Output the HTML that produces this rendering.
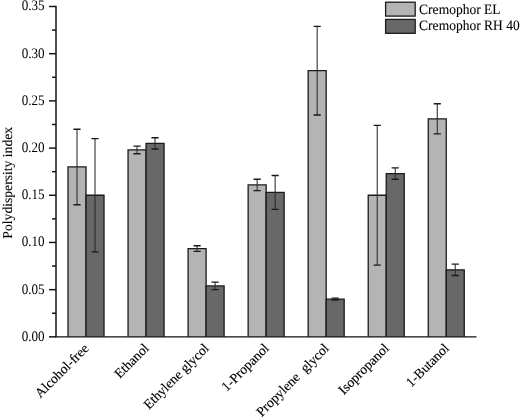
<!DOCTYPE html><html><head><meta charset="utf-8"><title>Polydispersity index</title>
<style>html,body{margin:0;padding:0;background:#fff}svg{display:block}text{text-rendering:geometricPrecision;font-family:"Liberation Serif","Times New Roman",serif;font-size:13.8px;fill:#000}</style></head><body>
<svg width="521" height="419" viewBox="0 0 521 419">
<rect width="521" height="419" fill="#fff"/>
<path d="M68.02 336.85V166.96h18.00V336.85" fill="#b4b4b4" stroke="#1a1a1a" stroke-width="1.3"/>
<path d="M77.02 129.20V204.71" stroke="#2a2a2a" stroke-width="1.05" fill="none"/>
<path d="M73.42 129.20h7.2M73.42 204.71h7.2" stroke="#1a1a1a" stroke-width="1.35" fill="none"/>
<path d="M86.02 336.85V195.27h18.00V336.85" fill="#686868" stroke="#1a1a1a" stroke-width="1.3"/>
<path d="M95.02 138.64V251.90" stroke="#2a2a2a" stroke-width="1.05" fill="none"/>
<path d="M91.42 138.64h7.2M91.42 251.90h7.2" stroke="#1a1a1a" stroke-width="1.35" fill="none"/>
<path d="M128.06 336.85V149.97h18.00V336.85" fill="#b4b4b4" stroke="#1a1a1a" stroke-width="1.3"/>
<path d="M137.06 146.19V153.74" stroke="#2a2a2a" stroke-width="1.05" fill="none"/>
<path d="M133.46 146.19h7.2M133.46 153.74h7.2" stroke="#1a1a1a" stroke-width="1.35" fill="none"/>
<path d="M146.06 336.85V143.36h18.00V336.85" fill="#686868" stroke="#1a1a1a" stroke-width="1.3"/>
<path d="M155.06 137.70V149.02" stroke="#2a2a2a" stroke-width="1.05" fill="none"/>
<path d="M151.46 137.70h7.2M151.46 149.02h7.2" stroke="#1a1a1a" stroke-width="1.35" fill="none"/>
<path d="M188.10 336.85V248.60h18.00V336.85" fill="#b4b4b4" stroke="#1a1a1a" stroke-width="1.3"/>
<path d="M197.10 245.77V251.43" stroke="#2a2a2a" stroke-width="1.05" fill="none"/>
<path d="M193.50 245.77h7.2M193.50 251.43h7.2" stroke="#1a1a1a" stroke-width="1.35" fill="none"/>
<path d="M206.10 336.85V285.88h18.00V336.85" fill="#686868" stroke="#1a1a1a" stroke-width="1.3"/>
<path d="M215.10 282.11V289.66" stroke="#2a2a2a" stroke-width="1.05" fill="none"/>
<path d="M211.50 282.11h7.2M211.50 289.66h7.2" stroke="#1a1a1a" stroke-width="1.35" fill="none"/>
<path d="M248.14 336.85V184.89h18.00V336.85" fill="#b4b4b4" stroke="#1a1a1a" stroke-width="1.3"/>
<path d="M257.14 179.23V190.55" stroke="#2a2a2a" stroke-width="1.05" fill="none"/>
<path d="M253.54 179.23h7.2M253.54 190.55h7.2" stroke="#1a1a1a" stroke-width="1.35" fill="none"/>
<path d="M266.14 336.85V192.44h18.00V336.85" fill="#686868" stroke="#1a1a1a" stroke-width="1.3"/>
<path d="M275.14 175.45V209.43" stroke="#2a2a2a" stroke-width="1.05" fill="none"/>
<path d="M271.54 175.45h7.2M271.54 209.43h7.2" stroke="#1a1a1a" stroke-width="1.35" fill="none"/>
<path d="M308.18 336.85V70.68h18.00V336.85" fill="#b4b4b4" stroke="#1a1a1a" stroke-width="1.3"/>
<path d="M317.18 26.32V115.04" stroke="#2a2a2a" stroke-width="1.05" fill="none"/>
<path d="M313.58 26.32h7.2M313.58 115.04h7.2" stroke="#1a1a1a" stroke-width="1.35" fill="none"/>
<path d="M326.18 336.85V299.10h18.00V336.85" fill="#686868" stroke="#1a1a1a" stroke-width="1.3"/>
<path d="M335.18 298.15V300.04" stroke="#2a2a2a" stroke-width="1.05" fill="none"/>
<path d="M331.58 298.15h7.2M331.58 300.04h7.2" stroke="#1a1a1a" stroke-width="1.35" fill="none"/>
<path d="M368.22 336.85V195.27h18.00V336.85" fill="#b4b4b4" stroke="#1a1a1a" stroke-width="1.3"/>
<path d="M377.22 125.43V265.12" stroke="#2a2a2a" stroke-width="1.05" fill="none"/>
<path d="M373.62 125.43h7.2M373.62 265.12h7.2" stroke="#1a1a1a" stroke-width="1.35" fill="none"/>
<path d="M386.22 336.85V173.56h18.00V336.85" fill="#686868" stroke="#1a1a1a" stroke-width="1.3"/>
<path d="M395.22 167.90V179.23" stroke="#2a2a2a" stroke-width="1.05" fill="none"/>
<path d="M391.62 167.90h7.2M391.62 179.23h7.2" stroke="#1a1a1a" stroke-width="1.35" fill="none"/>
<path d="M428.26 336.85V118.82h18.00V336.85" fill="#b4b4b4" stroke="#1a1a1a" stroke-width="1.3"/>
<path d="M437.26 103.72V133.92" stroke="#2a2a2a" stroke-width="1.05" fill="none"/>
<path d="M433.66 103.72h7.2M433.66 133.92h7.2" stroke="#1a1a1a" stroke-width="1.35" fill="none"/>
<path d="M446.26 336.85V269.84h18.00V336.85" fill="#686868" stroke="#1a1a1a" stroke-width="1.3"/>
<path d="M455.26 264.17V275.50" stroke="#2a2a2a" stroke-width="1.05" fill="none"/>
<path d="M451.66 264.17h7.2M451.66 275.50h7.2" stroke="#1a1a1a" stroke-width="1.35" fill="none"/>
<path d="M56.0 5.85V336.85H476.5" stroke="#111" stroke-width="1.45" fill="none"/>
<path d="M49.0 336.85H56.0" stroke="#111" stroke-width="1.45"/>
<text transform="translate(44.6 340.80) scale(0.95 1.055)" text-anchor="end">0.00</text>
<path d="M52.0 313.25H56.0" stroke="#111" stroke-width="1.45"/>
<path d="M49.0 289.66H56.0" stroke="#111" stroke-width="1.45"/>
<text transform="translate(44.6 293.61) scale(0.95 1.055)" text-anchor="end">0.05</text>
<path d="M52.0 266.06H56.0" stroke="#111" stroke-width="1.45"/>
<path d="M49.0 242.46H56.0" stroke="#111" stroke-width="1.45"/>
<text transform="translate(44.6 246.41) scale(0.95 1.055)" text-anchor="end">0.10</text>
<path d="M52.0 218.87H56.0" stroke="#111" stroke-width="1.45"/>
<path d="M49.0 195.27H56.0" stroke="#111" stroke-width="1.45"/>
<text transform="translate(44.6 199.22) scale(0.95 1.055)" text-anchor="end">0.15</text>
<path d="M52.0 171.67H56.0" stroke="#111" stroke-width="1.45"/>
<path d="M49.0 148.08H56.0" stroke="#111" stroke-width="1.45"/>
<text transform="translate(44.6 152.03) scale(0.95 1.055)" text-anchor="end">0.20</text>
<path d="M52.0 124.48H56.0" stroke="#111" stroke-width="1.45"/>
<path d="M49.0 100.89H56.0" stroke="#111" stroke-width="1.45"/>
<text transform="translate(44.6 104.84) scale(0.95 1.055)" text-anchor="end">0.25</text>
<path d="M52.0 77.29H56.0" stroke="#111" stroke-width="1.45"/>
<path d="M49.0 53.69H56.0" stroke="#111" stroke-width="1.45"/>
<text transform="translate(44.6 57.64) scale(0.95 1.055)" text-anchor="end">0.30</text>
<path d="M52.0 30.10H56.0" stroke="#111" stroke-width="1.45"/>
<path d="M49.0 6.50H56.0" stroke="#111" stroke-width="1.45"/>
<text transform="translate(44.6 10.45) scale(0.95 1.055)" text-anchor="end">0.35</text>
<text transform="translate(89.62 349.1) rotate(-45)" text-anchor="end" style="font-size:13.65px;stroke:#000;stroke-width:0.12px">Alcohol-free</text>
<text transform="translate(149.66 349.1) rotate(-45)" text-anchor="end" style="font-size:13.65px;stroke:#000;stroke-width:0.12px">Ethanol</text>
<text transform="translate(209.70 349.1) rotate(-45)" text-anchor="end" style="font-size:13.65px;stroke:#000;stroke-width:0.12px">Ethylene glycol</text>
<text transform="translate(269.74 349.1) rotate(-45)" text-anchor="end" style="font-size:13.65px;stroke:#000;stroke-width:0.12px">1-Propanol</text>
<text transform="translate(329.78 349.1) rotate(-45)" text-anchor="end" style="font-size:13.65px;stroke:#000;stroke-width:0.12px">Propylene  glycol</text>
<text transform="translate(389.82 349.1) rotate(-45)" text-anchor="end" style="font-size:13.65px;stroke:#000;stroke-width:0.12px">Isopropanol</text>
<text transform="translate(449.86 349.1) rotate(-45)" text-anchor="end" style="font-size:13.65px;stroke:#000;stroke-width:0.12px">1-Butanol</text>
<text transform="translate(12 182.75) rotate(-90)" text-anchor="middle" style="font-size:13.65px;stroke:#000;stroke-width:0.1px">Polydispersity index</text>
<rect x="385.6" y="2.2" width="29.6" height="13.9" fill="#b4b4b4" stroke="#1a1a1a" stroke-width="1.3"/>
<rect x="385.6" y="19.4" width="29.6" height="13.9" fill="#686868" stroke="#1a1a1a" stroke-width="1.3"/>
<text transform="translate(419.1 13.6) scale(0.966 1.02)" style="font-size:14px;stroke:#000;stroke-width:0.08px">Cremophor EL</text>
<text transform="translate(419.1 30.2) scale(0.966 1.02)" style="font-size:14px;stroke:#000;stroke-width:0.08px">Cremophor RH 40</text>
</svg></body></html>
